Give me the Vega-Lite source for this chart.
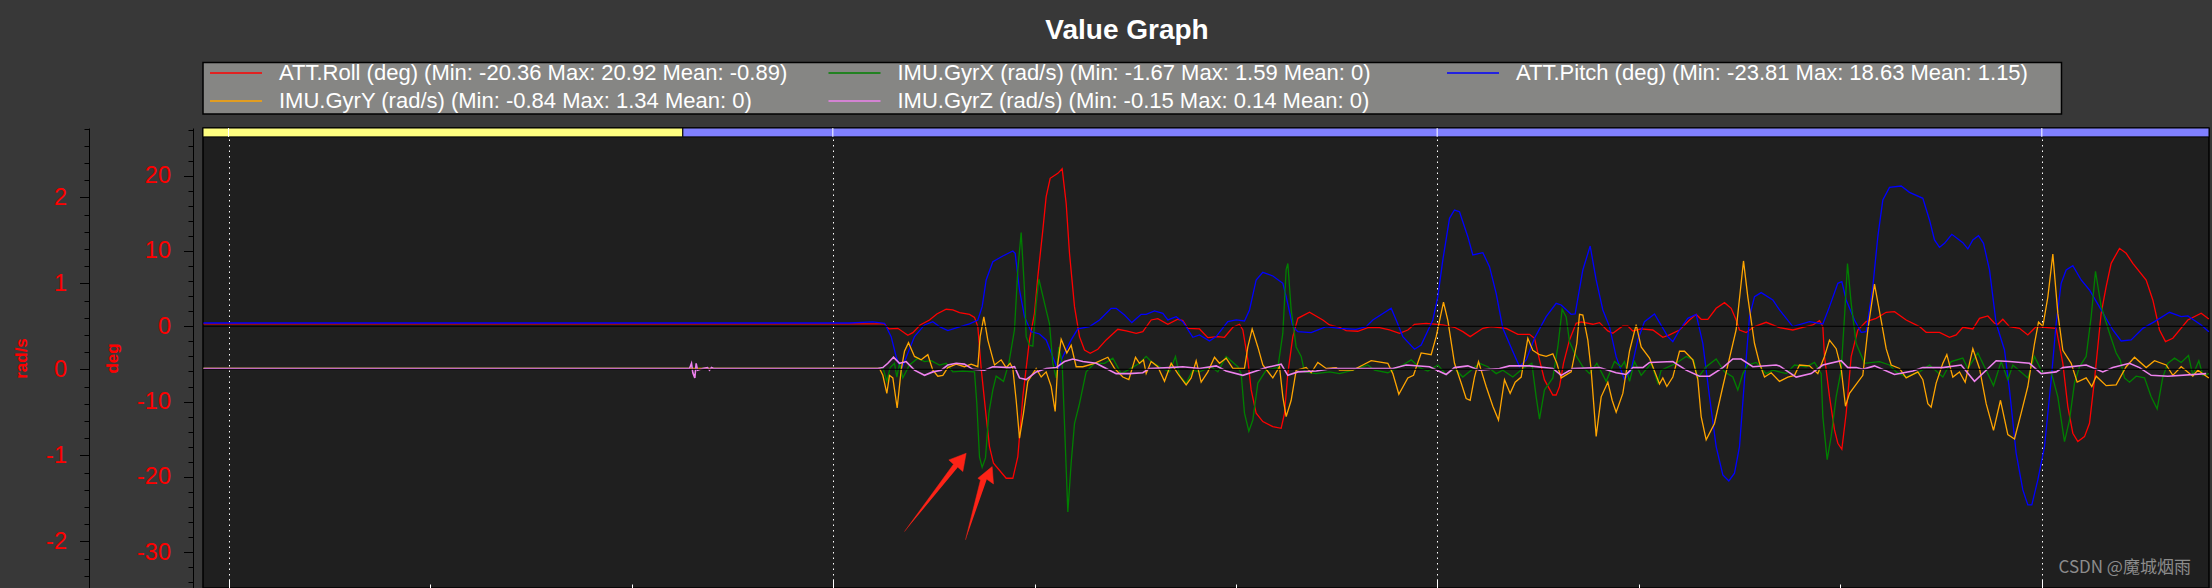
{
  "$schema": "https://vega.github.io/schema/vega-lite/v6.json",
  "autosize": {"type": "none"},
  "width": 2006,
  "height": 460,
  "padding": {"left": 203, "top": 128, "right": 3, "bottom": 0},
  "background": "#383838",
  "config": {"view": {"fill": "#1f1f1f", "stroke": "#000000", "strokeWidth": 1.5}},
  "title": {"text": "Value Graph", "color": "#ffffff", "font": "Liberation Sans", "fontSize": 28, "fontWeight": "bold", "anchor": "middle", "frame": "group", "baseline": "alphabetic", "offset": -8, "dx": -79},
  "datasets": {
    "roll": [{"sample":612,"value":0.31},{"sample":2655,"value":0.31},{"sample":2668,"value":-0.35},{"sample":2695,"value":-0.27},{"sample":2725,"value":-1.19},{"sample":2740,"value":-0.84},{"sample":2762,"value":0.18},{"sample":2790,"value":0.84},{"sample":2812,"value":1.64},{"sample":2840,"value":2.26},{"sample":2860,"value":2.17},{"sample":2880,"value":1.81},{"sample":2910,"value":1.59},{"sample":2925,"value":1.19},{"sample":2935,"value":-0.04},{"sample":2945,"value":-5.58},{"sample":2960,"value":-11.99},{"sample":2970,"value":-15.97},{"sample":2982,"value":-18.19},{"sample":3020,"value":-20.18},{"sample":3040,"value":-20.18},{"sample":3055,"value":-17.3},{"sample":3070,"value":-9.34},{"sample":3090,"value":-1.81},{"sample":3105,"value":1.73},{"sample":3115,"value":6.59},{"sample":3130,"value":12.79},{"sample":3140,"value":17.21},{"sample":3152,"value":19.65},{"sample":3175,"value":20.31},{"sample":3188,"value":20.92},{"sample":3200,"value":16.33},{"sample":3210,"value":9.69},{"sample":3225,"value":2.61},{"sample":3240,"value":-1.37},{"sample":3255,"value":-3.14},{"sample":3272,"value":-3.58},{"sample":3295,"value":-3.05},{"sample":3320,"value":-1.81},{"sample":3355,"value":-0.4},{"sample":3380,"value":-0.62},{"sample":3410,"value":-0.93},{"sample":3430,"value":-0.71},{"sample":3455,"value":0.84},{"sample":3475,"value":1.02},{"sample":3505,"value":0.27},{"sample":3535,"value":0.93},{"sample":3550,"value":0.75},{"sample":3565,"value":-0.27},{"sample":3600,"value":-0.35},{"sample":3625,"value":-1.5},{"sample":3655,"value":-1.37},{"sample":3675,"value":-1.46},{"sample":3700,"value":-0.13},{"sample":3720,"value":0.27},{"sample":3730,"value":-0.49},{"sample":3745,"value":-4.47},{"sample":3755,"value":-8.45},{"sample":3770,"value":-11.55},{"sample":3790,"value":-12.65},{"sample":3820,"value":-13.32},{"sample":3845,"value":-13.54},{"sample":3855,"value":-11.55},{"sample":3865,"value":-6.24},{"sample":3880,"value":-1.37},{"sample":3895,"value":1.06},{"sample":3930,"value":1.86},{"sample":3970,"value":0.84},{"sample":3990,"value":0.18},{"sample":4020,"value":-0.13},{"sample":4040,"value":-0.58},{"sample":4075,"value":-0.66},{"sample":4105,"value":-0.18},{"sample":4140,"value":-0.18},{"sample":4170,"value":-0.49},{"sample":4200,"value":-0.93},{"sample":4225,"value":-0.49},{"sample":4245,"value":0.27},{"sample":4280,"value":0.4},{"sample":4330,"value":0.18},{"sample":4365,"value":-0.13},{"sample":4390,"value":-0.71},{"sample":4412,"value":-1.37},{"sample":4450,"value":-0.27},{"sample":4475,"value":-0.04},{"sample":4520,"value":-0.27},{"sample":4555,"value":-1.06},{"sample":4590,"value":-1.06},{"sample":4605,"value":-1.59},{"sample":4620,"value":-4.47},{"sample":4635,"value":-7.12},{"sample":4660,"value":-9.12},{"sample":4670,"value":-9.12},{"sample":4680,"value":-8.01},{"sample":4692,"value":-4.91},{"sample":4710,"value":-1.81},{"sample":4730,"value":0.4},{"sample":4745,"value":0.58},{"sample":4780,"value":0.27},{"sample":4800,"value":0.49},{"sample":4825,"value":-0.62},{"sample":4840,"value":-0.93},{"sample":4870,"value":0.04},{"sample":4885,"value":0.04},{"sample":4900,"value":-0.62},{"sample":4925,"value":-0.35},{"sample":4960,"value":-0.49},{"sample":4990,"value":-1.46},{"sample":5010,"value":-1.15},{"sample":5040,"value":-0.49},{"sample":5070,"value":0.84},{"sample":5090,"value":1.59},{"sample":5105,"value":0.93},{"sample":5125,"value":0.93},{"sample":5150,"value":2.39},{"sample":5175,"value":3.14},{"sample":5195,"value":2.39},{"sample":5210,"value":0.84},{"sample":5220,"value":-0.49},{"sample":5240,"value":-0.84},{"sample":5265,"value":-0.04},{"sample":5300,"value":0.53},{"sample":5340,"value":-0.18},{"sample":5380,"value":-0.49},{"sample":5410,"value":-0.13},{"sample":5440,"value":0.18},{"sample":5460,"value":0.75},{"sample":5470,"value":-0.04},{"sample":5475,"value":-4.03},{"sample":5490,"value":-9.34},{"sample":5505,"value":-13.76},{"sample":5515,"value":-15.53},{"sample":5527,"value":-16.33},{"sample":5540,"value":-11.55},{"sample":5555,"value":-4.03},{"sample":5575,"value":-0.49},{"sample":5600,"value":0.62},{"sample":5630,"value":1.06},{"sample":5660,"value":1.86},{"sample":5685,"value":1.95},{"sample":5720,"value":0.84},{"sample":5760,"value":-0.04},{"sample":5780,"value":-0.8},{"sample":5820,"value":-0.8},{"sample":5850,"value":-1.46},{"sample":5870,"value":-1.15},{"sample":5890,"value":-0.13},{"sample":5920,"value":-0.35},{"sample":5940,"value":1.06},{"sample":5965,"value":1.37},{"sample":5985,"value":0.4},{"sample":5995,"value":0.27},{"sample":6010,"value":0.93},{"sample":6030,"value":-0.04},{"sample":6060,"value":-0.27},{"sample":6085,"value":-1.15},{"sample":6110,"value":-0.04},{"sample":6170,"value":-0.27},{"sample":6190,"value":-4.91},{"sample":6205,"value":-10.66},{"sample":6220,"value":-14.2},{"sample":6235,"value":-15.31},{"sample":6255,"value":-14.65},{"sample":6270,"value":-12.88},{"sample":6285,"value":-7.12},{"sample":6305,"value":1.73},{"sample":6320,"value":5.27},{"sample":6335,"value":8.36},{"sample":6360,"value":10.35},{"sample":6380,"value":9.69},{"sample":6400,"value":8.36},{"sample":6440,"value":6.15},{"sample":6460,"value":3.5},{"sample":6480,"value":-0.49},{"sample":6498,"value":-2.04},{"sample":6520,"value":-1.59},{"sample":6565,"value":0.84},{"sample":6605,"value":1.73},{"sample":6628,"value":0.97}],
    "pitch": [{"sample":612,"value":0.44},{"sample":2550,"value":0.44},{"sample":2620,"value":0.58},{"sample":2655,"value":0.4},{"sample":2675,"value":-1.37},{"sample":2690,"value":-4.03},{"sample":2705,"value":-5.8},{"sample":2725,"value":-3.58},{"sample":2745,"value":-1.37},{"sample":2775,"value":0.18},{"sample":2800,"value":0.62},{"sample":2820,"value":-0.04},{"sample":2845,"value":-0.58},{"sample":2875,"value":-0.13},{"sample":2910,"value":0.31},{"sample":2935,"value":0.84},{"sample":2948,"value":2.61},{"sample":2960,"value":6.15},{"sample":2980,"value":8.58},{"sample":3010,"value":9.34},{"sample":3040,"value":10},{"sample":3047,"value":9.69},{"sample":3060,"value":4.82},{"sample":3075,"value":1.28},{"sample":3095,"value":-0.71},{"sample":3120,"value":-1.02},{"sample":3140,"value":-1.81},{"sample":3160,"value":-4.03},{"sample":3175,"value":-5.8},{"sample":3190,"value":-4.03},{"sample":3215,"value":-1.81},{"sample":3235,"value":-0.35},{"sample":3270,"value":-0.04},{"sample":3300,"value":0.84},{"sample":3335,"value":2.39},{"sample":3350,"value":2.39},{"sample":3375,"value":1.5},{"sample":3397,"value":0.49},{"sample":3425,"value":1.59},{"sample":3440,"value":1.59},{"sample":3465,"value":2.04},{"sample":3490,"value":1.73},{"sample":3505,"value":0.84},{"sample":3530,"value":1.28},{"sample":3550,"value":0.62},{"sample":3580,"value":-1.46},{"sample":3600,"value":-1.15},{"sample":3630,"value":-1.95},{"sample":3650,"value":-1.37},{"sample":3685,"value":0.62},{"sample":3710,"value":0.84},{"sample":3735,"value":0.71},{"sample":3750,"value":2.17},{"sample":3770,"value":6.15},{"sample":3790,"value":7.17},{"sample":3820,"value":6.68},{"sample":3850,"value":5.71},{"sample":3860,"value":3.94},{"sample":3880,"value":-0.04},{"sample":3895,"value":-0.71},{"sample":3935,"value":-0.84},{"sample":3980,"value":-0.04},{"sample":4020,"value":-0.27},{"sample":4070,"value":-0.4},{"sample":4100,"value":-0.04},{"sample":4120,"value":0.84},{"sample":4175,"value":2.39},{"sample":4190,"value":0.84},{"sample":4210,"value":-1.37},{"sample":4245,"value":-3.05},{"sample":4265,"value":-2.48},{"sample":4300,"value":0.84},{"sample":4315,"value":3.94},{"sample":4330,"value":8.81},{"sample":4350,"value":14.34},{"sample":4365,"value":15.44},{"sample":4380,"value":15.22},{"sample":4405,"value":11.9},{"sample":4420,"value":9.47},{"sample":4450,"value":9.78},{"sample":4470,"value":7.92},{"sample":4490,"value":4.38},{"sample":4510,"value":-0.27},{"sample":4540,"value":-3.36},{"sample":4560,"value":-5.35},{"sample":4580,"value":-4.47},{"sample":4605,"value":-1.59},{"sample":4640,"value":1.28},{"sample":4670,"value":3.05},{"sample":4685,"value":2.83},{"sample":4715,"value":1.59},{"sample":4727,"value":1.64},{"sample":4750,"value":7.48},{"sample":4772,"value":10.66},{"sample":4790,"value":6.15},{"sample":4810,"value":2.17},{"sample":4830,"value":-0.04},{"sample":4850,"value":-4.03},{"sample":4875,"value":-7.12},{"sample":4895,"value":-5.8},{"sample":4915,"value":-1.81},{"sample":4935,"value":0.62},{"sample":4965,"value":1.64},{"sample":5005,"value":-1.37},{"sample":5020,"value":-2.04},{"sample":5040,"value":-0.49},{"sample":5065,"value":1.06},{"sample":5090,"value":1.59},{"sample":5110,"value":-2.26},{"sample":5130,"value":-9.34},{"sample":5150,"value":-15.97},{"sample":5170,"value":-19.73},{"sample":5188,"value":-20.53},{"sample":5205,"value":-19.51},{"sample":5220,"value":-15.97},{"sample":5235,"value":-7.12},{"sample":5250,"value":1.28},{"sample":5265,"value":3.94},{"sample":5285,"value":4.47},{"sample":5320,"value":3.5},{"sample":5340,"value":2.17},{"sample":5380,"value":-0.04},{"sample":5430,"value":0.62},{"sample":5470,"value":0.31},{"sample":5490,"value":2.61},{"sample":5515,"value":5.71},{"sample":5527,"value":5.93},{"sample":5540,"value":3.5},{"sample":5565,"value":0.84},{"sample":5585,"value":-0.8},{"sample":5600,"value":-0.71},{"sample":5620,"value":5.27},{"sample":5635,"value":11.9},{"sample":5650,"value":16.77},{"sample":5670,"value":18.45},{"sample":5705,"value":18.63},{"sample":5730,"value":17.79},{"sample":5770,"value":16.99},{"sample":5790,"value":14.12},{"sample":5805,"value":11.46},{"sample":5820,"value":10.49},{"sample":5835,"value":11.02},{"sample":5857,"value":12.21},{"sample":5890,"value":11.11},{"sample":5905,"value":10.27},{"sample":5920,"value":11.46},{"sample":5937,"value":12.04},{"sample":5952,"value":11.02},{"sample":5970,"value":7.48},{"sample":5990,"value":0.4},{"sample":6015,"value":-3.14},{"sample":6030,"value":-8.45},{"sample":6050,"value":-16.86},{"sample":6070,"value":-21.73},{"sample":6085,"value":-23.72},{"sample":6097,"value":-23.72},{"sample":6115,"value":-20.4},{"sample":6135,"value":-15.97},{"sample":6155,"value":-7.12},{"sample":6170,"value":0.4},{"sample":6185,"value":5.71},{"sample":6200,"value":7.48},{"sample":6220,"value":8.05},{"sample":6245,"value":6.15},{"sample":6270,"value":4.82},{"sample":6305,"value":2.17},{"sample":6340,"value":-0.49},{"sample":6365,"value":-1.95},{"sample":6395,"value":-1.81},{"sample":6430,"value":-0.27},{"sample":6465,"value":0.62},{"sample":6510,"value":1.86},{"sample":6545,"value":1.28},{"sample":6565,"value":1.37},{"sample":6605,"value":0.18},{"sample":6628,"value":-0.71}],
    "gyrx": [{"sample":612,"value":0.01},{"sample":2640,"value":0.01},{"sample":2650,"value":0.02},{"sample":2662,"value":-0.14},{"sample":2672,"value":0.02},{"sample":2685,"value":0.07},{"sample":2692,"value":-0.09},{"sample":2700,"value":0.07},{"sample":2710,"value":-0.1},{"sample":2730,"value":0.05},{"sample":2755,"value":0.13},{"sample":2775,"value":0.09},{"sample":2795,"value":0.1},{"sample":2820,"value":0.05},{"sample":2840,"value":0.07},{"sample":2860,"value":-0.03},{"sample":2890,"value":-0.02},{"sample":2925,"value":-0.03},{"sample":2932,"value":-0.4},{"sample":2940,"value":-1.02},{"sample":2948,"value":-1.14},{"sample":2958,"value":-1.03},{"sample":2968,"value":-0.51},{"sample":2980,"value":-0.24},{"sample":2990,"value":-0.08},{"sample":3012,"value":-0.14},{"sample":3028,"value":0.07},{"sample":3045,"value":0.46},{"sample":3055,"value":1.16},{"sample":3065,"value":1.59},{"sample":3075,"value":0.92},{"sample":3080,"value":0.38},{"sample":3090,"value":0.28},{"sample":3100,"value":0.27},{"sample":3110,"value":0.77},{"sample":3118,"value":1.05},{"sample":3135,"value":0.77},{"sample":3150,"value":0.53},{"sample":3160,"value":0.07},{"sample":3170,"value":-0.1},{"sample":3178,"value":0.26},{"sample":3188,"value":0.07},{"sample":3195,"value":-0.63},{"sample":3205,"value":-1.66},{"sample":3215,"value":-1.09},{"sample":3225,"value":-0.63},{"sample":3240,"value":-0.4},{"sample":3260,"value":-0.03},{"sample":3285,"value":0.07},{"sample":3315,"value":0.07},{"sample":3340,"value":0.13},{"sample":3365,"value":-0.05},{"sample":3385,"value":-0.01},{"sample":3420,"value":0.07},{"sample":3440,"value":0.15},{"sample":3455,"value":0.09},{"sample":3480,"value":0.03},{"sample":3510,"value":-0.03},{"sample":3528,"value":0.15},{"sample":3540,"value":-0.07},{"sample":3560,"value":-0.16},{"sample":3580,"value":-0.01},{"sample":3600,"value":-0.03},{"sample":3635,"value":0.03},{"sample":3655,"value":-0.03},{"sample":3680,"value":0.15},{"sample":3715,"value":0.03},{"sample":3725,"value":-0.05},{"sample":3735,"value":-0.51},{"sample":3748,"value":-0.72},{"sample":3760,"value":-0.59},{"sample":3775,"value":-0.16},{"sample":3800,"value":-0.01},{"sample":3835,"value":0.02},{"sample":3850,"value":0.42},{"sample":3860,"value":1.16},{"sample":3865,"value":1.23},{"sample":3875,"value":0.69},{"sample":3890,"value":0.26},{"sample":3905,"value":0.15},{"sample":3915,"value":-0.03},{"sample":3950,"value":-0.05},{"sample":3990,"value":-0.03},{"sample":4020,"value":-0.05},{"sample":4060,"value":-0.01},{"sample":4105,"value":0.05},{"sample":4125,"value":-0.01},{"sample":4165,"value":-0.04},{"sample":4210,"value":0.05},{"sample":4235,"value":0.11},{"sample":4260,"value":0.02},{"sample":4285,"value":-0.02},{"sample":4315,"value":0.05},{"sample":4340,"value":-0.06},{"sample":4365,"value":0.01},{"sample":4390,"value":-0.09},{"sample":4415,"value":-0.01},{"sample":4440,"value":0.07},{"sample":4465,"value":0.03},{"sample":4490,"value":-0.05},{"sample":4510,"value":-0.01},{"sample":4540,"value":-0.09},{"sample":4570,"value":0.01},{"sample":4597,"value":0.07},{"sample":4610,"value":-0.32},{"sample":4620,"value":-0.58},{"sample":4635,"value":-0.24},{"sample":4660,"value":-0.1},{"sample":4675,"value":0.26},{"sample":4688,"value":0.7},{"sample":4700,"value":0.61},{"sample":4710,"value":0.32},{"sample":4725,"value":0.19},{"sample":4750,"value":0.03},{"sample":4770,"value":-0.05},{"sample":4792,"value":0.07},{"sample":4820,"value":-0.14},{"sample":4845,"value":0.09},{"sample":4865,"value":0.03},{"sample":4875,"value":0.09},{"sample":4890,"value":-0.14},{"sample":4905,"value":0.09},{"sample":4925,"value":-0.07},{"sample":4955,"value":0.07},{"sample":4975,"value":-0.16},{"sample":4985,"value":-0.01},{"sample":5030,"value":0.07},{"sample":5060,"value":0.15},{"sample":5082,"value":0.11},{"sample":5095,"value":-0.1},{"sample":5120,"value":0.03},{"sample":5150,"value":0.12},{"sample":5175,"value":-0.03},{"sample":5200,"value":-0.09},{"sample":5215,"value":-0.24},{"sample":5230,"value":-0.05},{"sample":5245,"value":0.05},{"sample":5270,"value":0.08},{"sample":5300,"value":-0.05},{"sample":5320,"value":-0.01},{"sample":5340,"value":-0.03},{"sample":5360,"value":-0.05},{"sample":5385,"value":0.05},{"sample":5420,"value":0.03},{"sample":5445,"value":0.08},{"sample":5465,"value":-0.05},{"sample":5470,"value":-0.55},{"sample":5483,"value":-1.05},{"sample":5495,"value":-0.78},{"sample":5510,"value":-0.32},{"sample":5525,"value":-0.01},{"sample":5535,"value":0.61},{"sample":5544,"value":1.23},{"sample":5555,"value":0.77},{"sample":5570,"value":0.3},{"sample":5595,"value":0.07},{"sample":5640,"value":0.09},{"sample":5670,"value":0.05},{"sample":5690,"value":-0.03},{"sample":5720,"value":-0.09},{"sample":5760,"value":-0.03},{"sample":5790,"value":0.05},{"sample":5830,"value":-0.09},{"sample":5855,"value":0.09},{"sample":5890,"value":0.13},{"sample":5905,"value":0.01},{"sample":5935,"value":0.19},{"sample":5960,"value":-0.01},{"sample":5982,"value":-0.19},{"sample":6005,"value":0.09},{"sample":6025,"value":-0.12},{"sample":6040,"value":0.05},{"sample":6085,"value":-0.1},{"sample":6105,"value":0.15},{"sample":6130,"value":-0.05},{"sample":6155,"value":-0.03},{"sample":6175,"value":-0.32},{"sample":6195,"value":-0.84},{"sample":6210,"value":-0.59},{"sample":6225,"value":-0.16},{"sample":6240,"value":0.03},{"sample":6260,"value":0.15},{"sample":6275,"value":0.61},{"sample":6288,"value":1.14},{"sample":6305,"value":0.73},{"sample":6330,"value":0.42},{"sample":6350,"value":0.19},{"sample":6362,"value":0.11},{"sample":6375,"value":-0.1},{"sample":6390,"value":-0.15},{"sample":6410,"value":-0.08},{"sample":6435,"value":-0.1},{"sample":6455,"value":-0.32},{"sample":6473,"value":-0.46},{"sample":6490,"value":-0.09},{"sample":6505,"value":0.07},{"sample":6525,"value":0.13},{"sample":6545,"value":0.08},{"sample":6567,"value":0.16},{"sample":6580,"value":-0.07},{"sample":6598,"value":0.1},{"sample":6610,"value":-0.07},{"sample":6628,"value":-0.05}],
    "gyry": [{"sample":612,"value":0.01},{"sample":2640,"value":0.01},{"sample":2650,"value":-0.07},{"sample":2662,"value":-0.28},{"sample":2670,"value":-0.07},{"sample":2680,"value":-0.1},{"sample":2693,"value":-0.45},{"sample":2705,"value":-0.01},{"sample":2715,"value":0.21},{"sample":2727,"value":0.31},{"sample":2745,"value":0.15},{"sample":2765,"value":0.11},{"sample":2785,"value":0.17},{"sample":2800,"value":-0.01},{"sample":2815,"value":-0.08},{"sample":2830,"value":-0.07},{"sample":2845,"value":0.02},{"sample":2870,"value":0.06},{"sample":2895,"value":0.03},{"sample":2915,"value":0.06},{"sample":2935,"value":0.03},{"sample":2942,"value":0.38},{"sample":2953,"value":0.61},{"sample":2965,"value":0.34},{"sample":2985,"value":0.05},{"sample":3005,"value":0.11},{"sample":3020,"value":0.02},{"sample":3032,"value":0.07},{"sample":3040,"value":0.01},{"sample":3050,"value":-0.36},{"sample":3060,"value":-0.8},{"sample":3072,"value":-0.51},{"sample":3085,"value":-0.14},{"sample":3110,"value":0.01},{"sample":3125,"value":-0.09},{"sample":3140,"value":-0.03},{"sample":3155,"value":-0.2},{"sample":3167,"value":-0.49},{"sample":3175,"value":0.07},{"sample":3185,"value":0.35},{"sample":3202,"value":0.19},{"sample":3215,"value":0.28},{"sample":3230,"value":0.03},{"sample":3250,"value":0.03},{"sample":3285,"value":0.07},{"sample":3325,"value":0.14},{"sample":3345,"value":0.01},{"sample":3370,"value":-0.09},{"sample":3388,"value":-0.12},{"sample":3408,"value":0.14},{"sample":3420,"value":0.07},{"sample":3432,"value":0.11},{"sample":3440,"value":-0.05},{"sample":3455,"value":0.09},{"sample":3475,"value":0.03},{"sample":3495,"value":-0.14},{"sample":3515,"value":0.07},{"sample":3535,"value":-0.05},{"sample":3560,"value":-0.18},{"sample":3575,"value":-0.1},{"sample":3590,"value":0.1},{"sample":3605,"value":-0.15},{"sample":3625,"value":-0.03},{"sample":3645,"value":0.14},{"sample":3660,"value":0.07},{"sample":3680,"value":0.13},{"sample":3700,"value":0.01},{"sample":3735,"value":0.01},{"sample":3745,"value":0.26},{"sample":3758,"value":0.47},{"sample":3775,"value":0.26},{"sample":3790,"value":0.05},{"sample":3820,"value":-0.1},{"sample":3840,"value":0.03},{"sample":3850,"value":-0.32},{"sample":3860,"value":-0.55},{"sample":3875,"value":-0.36},{"sample":3890,"value":-0.01},{"sample":3920,"value":0.02},{"sample":3935,"value":-0.04},{"sample":3955,"value":0.08},{"sample":3980,"value":0.01},{"sample":4010,"value":0.02},{"sample":4020,"value":-0.01},{"sample":4060,"value":-0.01},{"sample":4090,"value":0.05},{"sample":4115,"value":0.1},{"sample":4165,"value":0.07},{"sample":4180,"value":-0.05},{"sample":4198,"value":-0.29},{"sample":4225,"value":-0.1},{"sample":4242,"value":-0.07},{"sample":4265,"value":0.19},{"sample":4295,"value":0.17},{"sample":4310,"value":0.38},{"sample":4332,"value":0.78},{"sample":4345,"value":0.57},{"sample":4365,"value":0.07},{"sample":4385,"value":-0.16},{"sample":4400,"value":-0.34},{"sample":4412,"value":-0.36},{"sample":4425,"value":-0.09},{"sample":4437,"value":0.09},{"sample":4460,"value":-0.2},{"sample":4480,"value":-0.43},{"sample":4497,"value":-0.59},{"sample":4515,"value":-0.12},{"sample":4532,"value":-0.28},{"sample":4547,"value":-0.15},{"sample":4565,"value":-0.09},{"sample":4585,"value":0.36},{"sample":4600,"value":0.22},{"sample":4620,"value":0.17},{"sample":4640,"value":0.15},{"sample":4660,"value":0.18},{"sample":4672,"value":0.07},{"sample":4685,"value":-0.1},{"sample":4715,"value":-0.03},{"sample":4732,"value":0.3},{"sample":4740,"value":0.64},{"sample":4750,"value":0.63},{"sample":4765,"value":0.34},{"sample":4775,"value":-0.01},{"sample":4790,"value":-0.78},{"sample":4805,"value":-0.32},{"sample":4825,"value":-0.15},{"sample":4838,"value":-0.36},{"sample":4850,"value":-0.5},{"sample":4870,"value":-0.28},{"sample":4890,"value":0.21},{"sample":4910,"value":0.52},{"sample":4925,"value":0.26},{"sample":4950,"value":0.13},{"sample":4980,"value":-0.17},{"sample":4990,"value":-0.1},{"sample":5002,"value":-0.2},{"sample":5020,"value":-0.09},{"sample":5040,"value":0.21},{"sample":5055,"value":0.21},{"sample":5080,"value":0.11},{"sample":5095,"value":-0.12},{"sample":5105,"value":-0.55},{"sample":5120,"value":-0.82},{"sample":5145,"value":-0.63},{"sample":5170,"value":-0.2},{"sample":5210,"value":0.46},{"sample":5232,"value":1.26},{"sample":5245,"value":0.84},{"sample":5265,"value":0.3},{"sample":5280,"value":0.07},{"sample":5295,"value":-0.09},{"sample":5315,"value":-0.04},{"sample":5340,"value":-0.14},{"sample":5365,"value":-0.09},{"sample":5385,"value":-0.07},{"sample":5400,"value":0.05},{"sample":5430,"value":0.04},{"sample":5455,"value":-0.05},{"sample":5475,"value":0.15},{"sample":5490,"value":0.34},{"sample":5510,"value":0.24},{"sample":5525,"value":0.01},{"sample":5538,"value":-0.43},{"sample":5550,"value":-0.28},{"sample":5590,"value":-0.07},{"sample":5605,"value":0.46},{"sample":5625,"value":0.99},{"sample":5645,"value":0.57},{"sample":5660,"value":0.24},{"sample":5675,"value":0.05},{"sample":5700,"value":0.01},{"sample":5720,"value":-0.1},{"sample":5755,"value":-0.03},{"sample":5770,"value":-0.12},{"sample":5785,"value":-0.4},{"sample":5795,"value":-0.44},{"sample":5810,"value":-0.16},{"sample":5830,"value":0.07},{"sample":5842,"value":0.17},{"sample":5860,"value":-0.09},{"sample":5880,"value":-0.03},{"sample":5897,"value":-0.15},{"sample":5920,"value":0.24},{"sample":5940,"value":0.01},{"sample":5960,"value":-0.4},{"sample":5982,"value":-0.71},{"sample":6003,"value":-0.36},{"sample":6025,"value":-0.76},{"sample":6045,"value":-0.81},{"sample":6065,"value":-0.51},{"sample":6085,"value":-0.2},{"sample":6105,"value":0.3},{"sample":6117,"value":0.55},{"sample":6130,"value":0.5},{"sample":6145,"value":0.84},{"sample":6160,"value":1.34},{"sample":6175,"value":0.65},{"sample":6190,"value":0.22},{"sample":6215,"value":0.07},{"sample":6233,"value":-0.15},{"sample":6260,"value":-0.1},{"sample":6277,"value":-0.2},{"sample":6290,"value":-0.08},{"sample":6320,"value":-0.19},{"sample":6350,"value":-0.18},{"sample":6380,"value":0.03},{"sample":6405,"value":0.14},{"sample":6440,"value":0.02},{"sample":6465,"value":0.1},{"sample":6500,"value":0.05},{"sample":6520,"value":-0.07},{"sample":6545,"value":0.03},{"sample":6580,"value":-0.08},{"sample":6595,"value":-0.01},{"sample":6628,"value":-0.1}],
    "gyrz": [{"sample":612,"value":0.01},{"sample":2070,"value":0.01},{"sample":2076,"value":0.07},{"sample":2080,"value":-0.04},{"sample":2086,"value":-0.1},{"sample":2090,"value":0.07},{"sample":2094,"value":-0.01},{"sample":2110,"value":0.01},{"sample":2124,"value":0.02},{"sample":2130,"value":-0.01},{"sample":2136,"value":0.02},{"sample":2142,"value":0.01},{"sample":2635,"value":0.01},{"sample":2650,"value":0.02},{"sample":2665,"value":0.07},{"sample":2682,"value":0.14},{"sample":2700,"value":0.07},{"sample":2720,"value":0.09},{"sample":2745,"value":-0.01},{"sample":2775,"value":-0.07},{"sample":2800,"value":-0.03},{"sample":2825,"value":-0.01},{"sample":2845,"value":0.05},{"sample":2870,"value":0.07},{"sample":2895,"value":0.06},{"sample":2920,"value":0},{"sample":2955,"value":-0.01},{"sample":2980,"value":0.03},{"sample":3030,"value":0.02},{"sample":3045,"value":0.03},{"sample":3060,"value":-0.1},{"sample":3080,"value":-0.12},{"sample":3110,"value":-0.03},{"sample":3140,"value":0.01},{"sample":3170,"value":0.02},{"sample":3195,"value":0.09},{"sample":3220,"value":0.12},{"sample":3250,"value":0.09},{"sample":3290,"value":0.07},{"sample":3320,"value":0.01},{"sample":3350,"value":-0.05},{"sample":3390,"value":-0.05},{"sample":3430,"value":-0.04},{"sample":3450,"value":0.01},{"sample":3510,"value":0.02},{"sample":3550,"value":0.03},{"sample":3600,"value":0.01},{"sample":3650,"value":0.04},{"sample":3680,"value":-0.02},{"sample":3730,"value":-0.07},{"sample":3770,"value":-0.02},{"sample":3800,"value":0.02},{"sample":3845,"value":0.06},{"sample":3865,"value":-0.07},{"sample":3895,"value":-0.03},{"sample":3950,"value":-0.02},{"sample":4000,"value":0.01},{"sample":4080,"value":0.01},{"sample":4180,"value":0.01},{"sample":4220,"value":0.05},{"sample":4290,"value":0.03},{"sample":4340,"value":-0.06},{"sample":4365,"value":0.02},{"sample":4405,"value":0.04},{"sample":4440,"value":-0.01},{"sample":4500,"value":0.01},{"sample":4530,"value":0.04},{"sample":4590,"value":0.04},{"sample":4660,"value":0.01},{"sample":4685,"value":-0.07},{"sample":4720,"value":0.01},{"sample":4800,"value":0.02},{"sample":4850,"value":-0.04},{"sample":4880,"value":-0.06},{"sample":4900,"value":0.02},{"sample":4930,"value":0.02},{"sample":4950,"value":0.08},{"sample":5020,"value":0.09},{"sample":5060,"value":-0.01},{"sample":5100,"value":-0.08},{"sample":5130,"value":-0.08},{"sample":5170,"value":0.02},{"sample":5200,"value":0.12},{"sample":5225,"value":0.12},{"sample":5260,"value":0.03},{"sample":5330,"value":0.05},{"sample":5340,"value":0.04},{"sample":5390,"value":-0.09},{"sample":5435,"value":-0.05},{"sample":5470,"value":0.05},{"sample":5525,"value":0.1},{"sample":5545,"value":0.02},{"sample":5570,"value":0.02},{"sample":5590,"value":0},{"sample":5625,"value":0.04},{"sample":5685,"value":-0.06},{"sample":5740,"value":-0.02},{"sample":5770,"value":0.02},{"sample":5830,"value":0.02},{"sample":5885,"value":0.05},{"sample":5925,"value":-0.14},{"sample":5990,"value":0.1},{"sample":6030,"value":0.09},{"sample":6090,"value":0.07},{"sample":6125,"value":-0.05},{"sample":6170,"value":-0.03},{"sample":6190,"value":0.02},{"sample":6260,"value":0.05},{"sample":6310,"value":-0.03},{"sample":6340,"value":0.02},{"sample":6390,"value":0.07},{"sample":6420,"value":0.02},{"sample":6455,"value":-0.07},{"sample":6505,"value":-0.08},{"sample":6620,"value":-0.05}],
    "arrows": [{"arrow":"a","i":0,"sample":2715,"value":-27.26},{"arrow":"a","i":1,"sample":2862,"value":-18.32},{"arrow":"a","i":2,"sample":2848,"value":-17.74},{"arrow":"a","i":3,"sample":2900,"value":-16.86},{"arrow":"a","i":4,"sample":2890,"value":-19.29},{"arrow":"a","i":5,"sample":2875,"value":-18.72},{"arrow":"b","i":0,"sample":2898,"value":-28.36},{"arrow":"b","i":1,"sample":2943,"value":-20.4},{"arrow":"b","i":2,"sample":2935,"value":-20.18},{"arrow":"b","i":3,"sample":2978,"value":-18.63},{"arrow":"b","i":4,"sample":2982,"value":-20.93},{"arrow":"b","i":5,"sample":2962,"value":-20.31}]
  },
  "encoding": {
    "x": {
      "field": "sample",
      "type": "quantitative",
      "scale": {"domain": [610.5, 6628.5], "nice": false, "zero": false},
      "axis": {
        "title": null,
        "labels": false,
        "domain": false,
        "values": [687, 1291, 1896, 2500, 3105, 3709, 4313, 4918, 5522, 6127],
        "tickColor": "#ffffff",
        "tickSize": {"condition": {"test": "indexof([687,2500,4313,6127], datum.value) >= 0", "value": -9}, "value": -4},
        "grid": true,
        "gridColor": "#ffffff",
        "gridDash": [1.5, 4],
        "gridOpacity": {"condition": {"test": "indexof([687,2500,4313,6127], datum.value) >= 0", "value": 1}, "value": 0}
      }
    }
  },
  "layer": [
    {
      "encoding": {
        "y": {
          "field": "value",
          "type": "quantitative",
          "scale": {"domain": [-34.75, 26.33], "nice": false, "zero": false},
          "axis": {
            "orient": "left",
            "offset": 10,
            "grid": false,
            "values": [-34,-32,-30,-28,-26,-24,-22,-20,-18,-16,-14,-12,-10,-8,-6,-4,-2,0,2,4,6,8,10,12,14,16,18,20,22,24,26],
            "labelExpr": "datum.value % 10 === 0 ? '' + datum.value : ''",
            "tickSize": {"condition": {"test": "datum.value % 10 === 0", "value": 9.5}, "value": 5},
            "tickColor": "#000000",
            "domainColor": "#000000",
            "labelColor": "#ff0000",
            "labelFont": "Liberation Sans",
            "labelFontSize": 23.5,
            "labelPadding": 13,
            "labelOverlap": false,
            "title": "deg",
            "titleColor": "#ff0000",
            "titleFont": "Liberation Sans",
            "titleFontSize": 17,
            "titleFontWeight": "bold",
            "titlePadding": 15
          }
        }
      },
      "layer": [
        {
          "data": {"values": [{"sample": 610.5, "end": 6186, "value": 35.03, "bottom": 28.19}]},
          "mark": {"type": "rect", "fill": "#868684", "stroke": "#000000", "strokeWidth": 1.5, "clip": false},
          "encoding": {"x2": {"field": "end"}, "y2": {"field": "bottom"}}
        },
        {
          "data": {"values": [{"sample": 610.5, "end": 2050, "value": 26.33, "bottom": 25.15}]},
          "mark": {"type": "rect", "fill": "#ffff80", "stroke": "#000000", "strokeWidth": 1},
          "encoding": {"x2": {"field": "end"}, "y2": {"field": "bottom"}}
        },
        {
          "data": {"values": [{"sample": 2050, "end": 6628.5, "value": 26.33, "bottom": 25.15}]},
          "mark": {"type": "rect", "fill": "#8080ff", "stroke": "#000000", "strokeWidth": 1},
          "encoding": {"x2": {"field": "end"}, "y2": {"field": "bottom"}}
        },
        {
          "data": {"values": [{"sample": 687, "value": 26.33, "bottom": 25.15}, {"sample": 2500, "value": 26.33, "bottom": 25.15}, {"sample": 4313, "value": 26.33, "bottom": 25.15}, {"sample": 6127, "value": 26.33, "bottom": 25.15}]},
          "mark": {"type": "rule", "color": "#ffffff", "strokeWidth": 1},
          "encoding": {"y2": {"field": "bottom"}}
        },
        {
          "data": {"name": "roll"},
          "mark": {"type": "line", "strokeWidth": 1.3},
          "encoding": {
            "color": {
              "datum": "ATT.Roll (deg) (Min: -20.36 Max: 20.92 Mean: -0.89)",
              "scale": {
                "domain": [
                  "ATT.Roll (deg) (Min: -20.36 Max: 20.92 Mean: -0.89)",
                  "IMU.GyrX (rad/s) (Min: -1.67 Max: 1.59 Mean: 0)",
                  "ATT.Pitch (deg) (Min: -23.81 Max: 18.63 Mean: 1.15)",
                  "IMU.GyrY (rad/s) (Min: -0.84 Max: 1.34 Mean: 0)",
                  "IMU.GyrZ (rad/s) (Min: -0.15 Max: 0.14 Mean: 0)"
                ],
                "range": ["#ff0000", "#008000", "#0000ff", "#ffa500", "#ee82ee"]
              },
              "legend": {
                "orient": "none",
                "legendX": 3,
                "legendY": -69,
                "direction": "horizontal",
                "columns": 3,
                "gridAlign": "all",
                "title": null,
                "padding": 3,
                "columnPadding": 34.5,
                "rowPadding": 6,
                "symbolType": "M-1,0H4.2",
                "symbolSize": 400,
                "symbolStrokeWidth": 1.5,
                "labelColor": "#ffffff",
                "labelFont": "Liberation Sans",
                "labelFontSize": 22,
                "labelOffset": 48,
                "labelLimit": 700
              }
            }
          }
        },
        {
          "data": {"name": "pitch"},
          "mark": {"type": "line", "strokeWidth": 1.3},
          "encoding": {"color": {"datum": "ATT.Pitch (deg) (Min: -23.81 Max: 18.63 Mean: 1.15)"}}
        }
      ]
    },
    {
      "encoding": {
        "y": {
          "field": "value",
          "type": "quantitative",
          "scale": {"domain": [-2.543, 2.806], "nice": false, "zero": false},
          "axis": {
            "orient": "left",
            "offset": 114,
            "grid": false,
            "values": [-2.4,-2.2,-2,-1.8,-1.6,-1.4,-1.2,-1,-0.8,-0.6,-0.4,-0.2,0,0.2,0.4,0.6,0.8,1,1.2,1.4,1.6,1.8,2,2.2,2.4,2.6,2.8],
            "labelExpr": "abs(datum.value - round(datum.value)) < 0.01 ? '' + round(datum.value) : ''",
            "tickSize": {"condition": {"test": "abs(datum.value - round(datum.value)) < 0.01", "value": 9.5}, "value": 5},
            "tickColor": "#000000",
            "domainColor": "#000000",
            "labelColor": "#ff0000",
            "labelFont": "Liberation Sans",
            "labelFontSize": 23.5,
            "labelPadding": 13,
            "labelOverlap": false,
            "title": "rad/s",
            "titleColor": "#ff0000",
            "titleFont": "Liberation Sans",
            "titleFontSize": 17,
            "titleFontWeight": "bold",
            "titlePadding": 15
          }
        }
      },
      "layer": [
        {
          "data": {"name": "gyrx"},
          "mark": {"type": "line", "strokeWidth": 1.3},
          "encoding": {"color": {"datum": "IMU.GyrX (rad/s) (Min: -1.67 Max: 1.59 Mean: 0)"}}
        },
        {
          "data": {"name": "gyry"},
          "mark": {"type": "line", "strokeWidth": 1.3},
          "encoding": {"color": {"datum": "IMU.GyrY (rad/s) (Min: -0.84 Max: 1.34 Mean: 0)"}}
        },
        {
          "data": {"name": "gyrz"},
          "mark": {"type": "line", "strokeWidth": 1.6},
          "encoding": {"color": {"datum": "IMU.GyrZ (rad/s) (Min: -0.15 Max: 0.14 Mean: 0)"}}
        },
        {
          "data": {"values": [{"sample": 610.5, "value": 0}, {"sample": 6628.5, "value": 0}]},
          "mark": {"type": "line", "color": "#000000", "strokeWidth": 1}
        }
      ]
    },
    {
      "encoding": {
        "y": {
          "field": "value",
          "type": "quantitative",
          "scale": {"domain": [-34.75, 26.33], "nice": false, "zero": false},
          "axis": null
        }
      },
      "layer": [
        {
          "data": {"values": [{"sample": 610.5, "value": 0}, {"sample": 6628.5, "value": 0}]},
          "mark": {"type": "line", "color": "#000000", "strokeWidth": 1}
        },
        {
          "data": {"name": "arrows"},
          "mark": {"type": "line", "fill": "#fd2317", "stroke": "#fd2317", "strokeWidth": 0.5},
          "encoding": {"detail": {"field": "arrow"}, "order": {"field": "i"}}
        },
        {
          "data": {"values": [{"sample": 6177, "value": -32.1, "label": "CSDN @魔城烟雨"}]},
          "mark": {"type": "text", "align": "left", "baseline": "middle", "font": "Noto Sans CJK SC", "fontSize": 17, "color": "#8c8c8c"},
          "encoding": {"text": {"field": "label"}}
        }
      ]
    }
  ],
  "resolve": {"scale": {"y": "independent"}, "axis": {"y": "independent"}}
}
